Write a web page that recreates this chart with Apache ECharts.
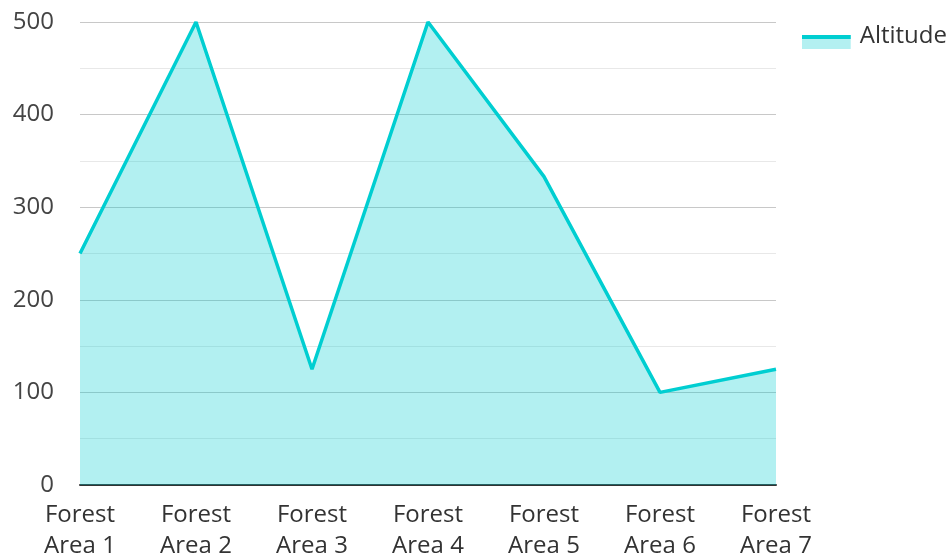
<!DOCTYPE html>
<html>
<head>
<meta charset="utf-8">
<script src="https://cdn.jsdelivr.net/npm/echarts@6/dist/echarts.min.js"></script>
<style>
  html, body { margin: 0; padding: 0; background: #fff; }
  #chart { width: 952px; height: 557px; }
</style>
</head>
<body>
<div id="chart"></div>
<script>
// Forest areas and their altitude
const categories = ['Forest\nArea 1', 'Forest\nArea 2', 'Forest\nArea 3', 'Forest\nArea 4', 'Forest\nArea 5', 'Forest\nArea 6', 'Forest\nArea 7'];
const altitude = [250, 500, 125, 500, 333, 100, 125];
const seriesName = 'Altitude';

const lineColor = '#00CED1';
const areaColor = '#b3f0f1';
const font = '"Open Sans", "Noto Sans", sans-serif';

// Legend swatch: a stroke on top of a filled area block, sitting low beside the label,
// with a little blank space on its right before the text
const legendIcon = 'image://data:image/svg+xml;charset=utf-8,' + encodeURIComponent(
  '<svg xmlns="http://www.w3.org/2000/svg" width="53" height="26" viewBox="0 0 53 26">' +
  '<rect x="0" y="12" width="49" height="14" fill="' + areaColor + '"/>' +
  '<rect x="0" y="12" width="49" height="4" fill="' + lineColor + '"/>' +
  '</svg>');

const chart = echarts.init(document.getElementById('chart'), null, { renderer: 'canvas' });
chart.setOption({
  animation: false,
  textStyle: { fontFamily: font },
  legend: {
    right: 0,
    top: 18,
    itemWidth: 53,
    itemHeight: 26,
    itemGap: 9,
    textStyle: { fontSize: 24, color: '#333', fontFamily: font },
    data: [{ name: seriesName, icon: legendIcon }]
  },
  grid: { left: 80, right: 176, top: 22, bottom: 72, containLabel: false, outerBoundsMode: 'none' },
  xAxis: {
    type: 'category',
    data: categories,
    boundaryGap: false,
    axisLine: { lineStyle: { color: '#333', width: 2 } },
    axisTick: { show: false },
    axisLabel: { fontSize: 24, color: '#333', lineHeight: 31, margin: 15, fontFamily: font }
  },
  yAxis: {
    type: 'value',
    min: 0,
    max: 500,
    interval: 100,
    axisLine: { show: false },
    axisTick: { show: false },
    axisLabel: { fontSize: 24, color: '#444', margin: 26, fontFamily: font },
    splitLine: { lineStyle: { color: '#c8c8c8', width: 1 } },
    minorTick: { show: false, splitNumber: 2 },
    minorSplitLine: { show: true, lineStyle: { color: '#e8e8e8', width: 1 } }
  },
  series: [{
    name: seriesName,
    type: 'line',
    data: altitude,
    symbol: 'none',
    lineStyle: { color: lineColor, width: 3.5 },
    itemStyle: { color: lineColor },
    areaStyle: { color: lineColor, opacity: 0.3 }
  }]
});
</script>
</body>
</html>
